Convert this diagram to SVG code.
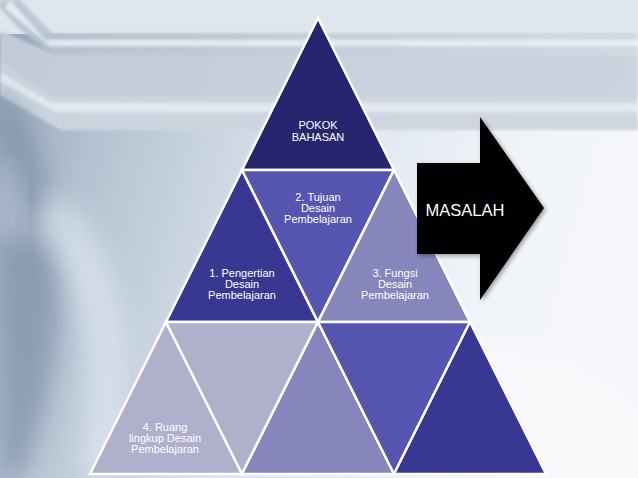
<svg xmlns="http://www.w3.org/2000/svg" width="638" height="478" viewBox="0 0 638 478">
<defs>
<linearGradient id="bg" x1="0" y1="0" x2="1" y2="0.2">
<stop offset="0" stop-color="#90a2b6"/>
<stop offset="0.2" stop-color="#b4c2d1"/>
<stop offset="0.5" stop-color="#d9e2ec"/>
<stop offset="0.8" stop-color="#eef2f7"/>
<stop offset="1" stop-color="#f5f7fa"/>
</linearGradient>
<linearGradient id="bandfade" x1="0" y1="0" x2="1" y2="0">
<stop offset="0" stop-color="#b7c3d0"/>
<stop offset="1" stop-color="#cfd6df"/>
</linearGradient>
<filter id="sh" x="-10%" y="-10%" width="130%" height="130%">
<feGaussianBlur stdDeviation="2"/>
</filter>
<filter id="soft" x="-10%" y="-10%" width="120%" height="120%">
<feGaussianBlur stdDeviation="1.5"/>
</filter>
<filter id="blur" x="-30%" y="-30%" width="160%" height="160%">
<feGaussianBlur stdDeviation="12"/>
</filter>
<style>
.tri{stroke:#ffffff;stroke-width:2.5;stroke-linejoin:miter}
.lbl{font-family:"Liberation Sans",Arial,sans-serif;font-size:11px;fill:#ffffff;text-anchor:middle}
</style>
</defs>
<g id="background">
<rect width="638" height="478" fill="url(#bg)"/>
<rect x="0" y="0" width="638" height="34" fill="#dfe6ee"/>
<g filter="url(#soft)">
<path d="M0 8 L0 0 L20 0 L52 33 L638 33 L638 55 L55 55 L20 30 Z" fill="url(#bandfade)" opacity="0.9"/>
<path d="M10 0 L45 40 L638 40 L638 46 L50 46 L5 8 Z" fill="#eef2f7" opacity="0.8"/>
<path d="M0 30 L55 55 L638 55 L638 97 L55 97 L0 60 Z" fill="#c5cfda" opacity="0.9"/>
<path d="M0 60 L55 97 L638 97 L638 130 L60 130 L0 95 Z" fill="#cdd5df" opacity="0.95"/>
<path d="M0 72 L52 103 L638 103 L638 112 L56 112 L0 82 Z" fill="#e6ebf1" opacity="0.9"/>
</g>
<path d="M0 80 C50 150 70 250 55 360 C45 420 30 460 20 478 L0 478 Z" fill="#7487a0" opacity="0.6" filter="url(#blur)"/>
<path d="M50 190 C115 230 140 330 115 478 L80 478 C100 350 85 270 30 230 Z" fill="#e3ecf5" opacity="0.6" filter="url(#blur)"/>
<path d="M0 150 C20 170 25 200 20 240 L0 240 Z" fill="#dde6f0" opacity="0.5" filter="url(#blur)"/>
<path d="M400 300 C480 320 560 360 638 420 L638 478 L560 478 C520 410 470 350 400 300 Z" fill="#ffffff" opacity="0.35" filter="url(#blur)"/>
</g>
<g id="n-top"><polygon class="tri" points="318,18 394,170 242,170" fill="#26266e"/><text class="lbl" x="318" y="129">POKOK</text><text class="lbl" x="318" y="141">BAHASAN</text></g>
<g id="n-1"><polygon class="tri" points="242,170 318,322 166,322" fill="#383893"/><text class="lbl" x="242" y="277">1. Pengertian</text><text class="lbl" x="242" y="288">Desain</text><text class="lbl" x="242" y="299">Pembelajaran</text></g>
<g id="n-2"><polygon class="tri" points="242,170 394,170 318,322" fill="#5656b0"/><text class="lbl" x="318" y="201">2. Tujuan</text><text class="lbl" x="318" y="212">Desain</text><text class="lbl" x="318" y="223">Pembelajaran</text></g>
<g id="n-3"><polygon class="tri" points="394,170 470,322 318,322" fill="#8686bc"/><text class="lbl" x="395" y="277">3. Fungsi</text><text class="lbl" x="395" y="288">Desain</text><text class="lbl" x="395" y="299">Pembelajaran</text></g>
<g id="n-4"><polygon class="tri" points="166,322 242,474 90,474" fill="#b0b0cc"/><text class="lbl" x="165" y="431">4. Ruang</text><text class="lbl" x="165" y="442">lingkup Desain</text><text class="lbl" x="165" y="453">Pembelajaran</text></g>
<g id="n-5"><polygon class="tri" points="166,322 318,322 242,474" fill="#b0b0cc"/></g>
<g id="n-6"><polygon class="tri" points="318,322 394,474 242,474" fill="#8686bc"/></g>
<g id="n-7"><polygon class="tri" points="318,322 470,322 394,474" fill="#5656b0"/></g>
<g id="n-8"><polygon class="tri" points="470,322 546,474 394,474" fill="#383893"/></g>
<g id="connectors">
<g id="arrow">
<polygon points="419,165 482,165 482,119 546,210 482,302 482,256 419,256" fill="#000000" opacity="0.35" filter="url(#sh)"/>
<polygon points="417,163 480,163 480,117 544,208 480,300 480,254 417,254" fill="#000000"/>
<text x="465" y="216" font-family="'Liberation Sans',Arial,sans-serif" font-size="16.5" fill="#ffffff" text-anchor="middle">MASALAH</text>
</g>
</g>
</svg>
